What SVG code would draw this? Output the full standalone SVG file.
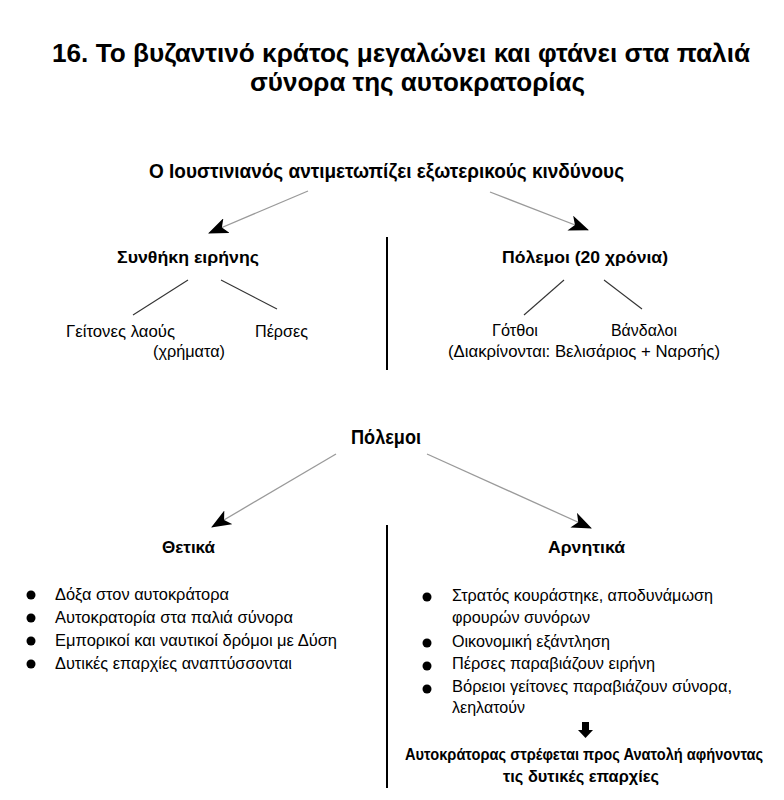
<svg xmlns="http://www.w3.org/2000/svg" width="784" height="800" viewBox="0 0 784 800">
<style>
text{font-family:"Liberation Sans",Arial,sans-serif;fill:#000}
.t{font-size:25px;font-weight:bold}
.h{font-size:19.5px;font-weight:bold}
.s{font-size:17px;font-weight:bold}
.n{font-size:16.5px}
.b{font-size:16.5px;font-weight:bold}
.ar{stroke:#9a9a9a;stroke-width:1.3;fill:none}
.ln{stroke:#333;stroke-width:1.1;fill:none}
.dv{stroke:#000;stroke-width:2;fill:none}
</style>
<defs>
<marker id="ah" viewBox="0 0 20 16" refX="19" refY="8" markerWidth="20" markerHeight="16" markerUnits="userSpaceOnUse" orient="auto">
<path d="M0,0 L20,8 L0,16 L5,8 Z" fill="#000"/>
</marker>
</defs>
<rect width="784" height="800" fill="#fff"/>
<g id="title">
<text class="t" x="52" y="62" textLength="698" lengthAdjust="spacingAndGlyphs">16. Το βυζαντινό κράτος μεγαλώνει και φτάνει στα παλιά</text>
<text class="t" x="250" y="91" textLength="335" lengthAdjust="spacingAndGlyphs">σύνορα της αυτοκρατορίας</text>
</g>
<g id="connectors">
<line class="ar" x1="308" y1="191" x2="209" y2="233" marker-end="url(#ah)"/>
<line class="ar" x1="490" y1="192" x2="588" y2="230" marker-end="url(#ah)"/>
<line class="ln" x1="188" y1="280" x2="133" y2="315"/>
<line class="ln" x1="221" y1="280" x2="277" y2="309"/>
<line class="ln" x1="564" y1="280" x2="524" y2="315"/>
<line class="ln" x1="604" y1="280" x2="642" y2="309"/>
<line class="ar" x1="336" y1="454" x2="212" y2="527" marker-end="url(#ah)"/>
<line class="ar" x1="427" y1="454" x2="591" y2="528" marker-end="url(#ah)"/>
<line class="dv" x1="387" y1="237" x2="387" y2="370"/>
<line class="dv" x1="387" y1="525" x2="387" y2="788"/>
</g>
<g id="n-justinian">
<text class="h" x="149" y="178" textLength="475" lengthAdjust="spacingAndGlyphs">Ο Ιουστινιανός αντιμετωπίζει εξωτερικούς κινδύνους</text>
</g>
<g id="n-peace">
<text class="s" x="117" y="263" textLength="142" lengthAdjust="spacingAndGlyphs">Συνθήκη ειρήνης</text>
</g>
<g id="n-wars20">
<text class="s" x="502" y="263" textLength="166" lengthAdjust="spacingAndGlyphs">Πόλεμοι (20 χρόνια)</text>
</g>
<g id="n-neighbours">
<text class="n" x="66" y="337" textLength="109" lengthAdjust="spacingAndGlyphs">Γείτονες λαούς</text>
<text class="n" x="153" y="357" textLength="72" lengthAdjust="spacingAndGlyphs">(χρήματα)</text>
</g>
<g id="n-persians">
<text class="n" x="255" y="337" textLength="53" lengthAdjust="spacingAndGlyphs">Πέρσες</text>
</g>
<g id="n-goths">
<text class="n" x="492" y="336" textLength="46" lengthAdjust="spacingAndGlyphs">Γότθοι</text>
</g>
<g id="n-vandals">
<text class="n" x="611" y="336" textLength="66" lengthAdjust="spacingAndGlyphs">Βάνδαλοι</text>
</g>
<g id="n-generals">
<text class="n" x="448" y="357" textLength="272" lengthAdjust="spacingAndGlyphs">(Διακρίνονται: Βελισάριος + Ναρσής)</text>
</g>
<g id="n-wars">
<text class="h" x="351" y="444" textLength="70" lengthAdjust="spacingAndGlyphs">Πόλεμοι</text>
</g>
<g id="n-positive">
<text class="s" x="162" y="553" textLength="53" lengthAdjust="spacingAndGlyphs">Θετικά</text>
<circle cx="31" cy="595" r="4.5"/>
<circle cx="31" cy="618" r="4.5"/>
<circle cx="31" cy="641" r="4.5"/>
<circle cx="31" cy="664" r="4.5"/>
<text class="n" x="55" y="600" textLength="174" lengthAdjust="spacingAndGlyphs">Δόξα στον αυτοκράτορα</text>
<text class="n" x="55" y="623" textLength="238" lengthAdjust="spacingAndGlyphs">Αυτοκρατορία στα παλιά σύνορα</text>
<text class="n" x="55" y="646" textLength="282" lengthAdjust="spacingAndGlyphs">Εμπορικοί και ναυτικοί δρόμοι με Δύση</text>
<text class="n" x="55" y="669" textLength="237" lengthAdjust="spacingAndGlyphs">Δυτικές επαρχίες αναπτύσσονται</text>
</g>
<g id="n-negative">
<text class="s" x="548" y="553" textLength="77" lengthAdjust="spacingAndGlyphs">Αρνητικά</text>
<circle cx="427" cy="597" r="4.5"/>
<circle cx="427" cy="643" r="4.5"/>
<circle cx="427" cy="666" r="4.5"/>
<circle cx="427" cy="689" r="4.5"/>
<text class="n" x="452" y="601" textLength="261" lengthAdjust="spacingAndGlyphs">Στρατός κουράστηκε, αποδυνάμωση</text>
<text class="n" x="452" y="623" textLength="138" lengthAdjust="spacingAndGlyphs">φρουρών συνόρων</text>
<text class="n" x="452" y="647" textLength="158" lengthAdjust="spacingAndGlyphs">Οικονομική εξάντληση</text>
<text class="n" x="452" y="669" textLength="203" lengthAdjust="spacingAndGlyphs">Πέρσες παραβιάζουν ειρήνη</text>
<text class="n" x="452" y="692" textLength="280" lengthAdjust="spacingAndGlyphs">Βόρειοι γείτονες παραβιάζουν σύνορα,</text>
<text class="n" x="452" y="713" textLength="73" lengthAdjust="spacingAndGlyphs">λεηλατούν</text>
</g>
<g id="n-result">
<path d="M582,722 H589 V730 H593 L585.5,738 L578,730 H582 Z" fill="#000"/>
<text class="b" transform="translate(405,760) scale(0.88,1)" x="0" y="0" textLength="407" lengthAdjust="spacingAndGlyphs">Αυτοκράτορας στρέφεται προς Ανατολή αφήνοντας</text>
<text class="b" x="503" y="782" textLength="156" lengthAdjust="spacingAndGlyphs">τις δυτικές επαρχίες</text>
</g>
</svg>
